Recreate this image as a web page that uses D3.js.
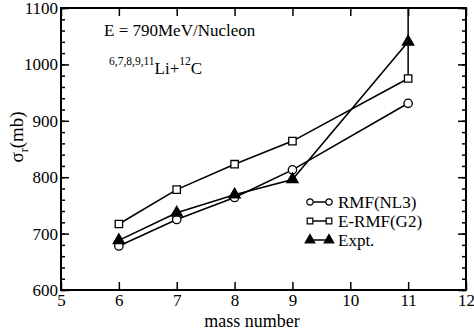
<!DOCTYPE html>
<html><head><meta charset="utf-8">
<script src="https://cdn.jsdelivr.net/npm/d3@7"></script>
<style>body{margin:0;background:#fff}</style>
</head><body>
<svg id="c" width="474" height="333"></svg>
<script>
const massNumbers = [6, 7, 8, 9, 11];
const rmfNL3 = [678, 725, 764, 813, 931];
const ermfG2 = [717, 778, 823, 864, 975];
const expt = [688, 737, 769, 796, 1040];
const exptErr = [0, 0, 0, 0, 65];
const xTicks = [5, 6, 7, 8, 9, 10, 11, 12];
const yTicks = [600, 700, 800, 900, 1000, 1100];
const seriesNames = ["RMF(NL3)", "E-RMF(G2)", "Expt."];

const svg = d3.select("#c");
const L = 61, R = 466, T = 8, B = 290;
const x = d3.scaleLinear().domain([5, 12]).range([L, R]);
const y = d3.scaleLinear().domain([600, 1100]).range([B, T]);
const font = "'Liberation Serif', 'Times New Roman', serif";

svg.append("clipPath").attr("id", "pc").append("rect")
  .attr("x", L).attr("y", T).attr("width", R - L).attr("height", B - T);

const minorY = d3.range(600, 1101, 20);
const g = svg.append("g");
g.append("g").attr("transform", `translate(${L},0)`)
  .call(d3.axisLeft(y).tickValues(minorY).tickSize(-4).tickFormat(""))
  .call(a => a.select(".domain").remove());
g.append("g").attr("transform", `translate(${L},0)`)
  .call(d3.axisLeft(y).tickValues(yTicks).tickSize(-8).tickPadding(3).tickFormat(d3.format("d")))
  .call(a => a.select(".domain").remove());
g.append("g").attr("transform", `translate(${R},0)`)
  .call(d3.axisRight(y).tickValues(minorY).tickSize(-4).tickFormat(""))
  .call(a => a.select(".domain").remove());
g.append("g").attr("transform", `translate(${R},0)`)
  .call(d3.axisRight(y).tickValues(yTicks).tickSize(-8).tickFormat(""))
  .call(a => a.select(".domain").remove());
g.append("g").attr("transform", `translate(0,${B})`)
  .call(d3.axisBottom(x).tickValues(xTicks).tickSize(-8).tickPadding(4).tickFormat(d3.format("d")))
  .call(a => a.select(".domain").remove());
g.append("g").attr("transform", `translate(0,${T})`)
  .call(d3.axisTop(x).tickValues(xTicks).tickSize(-8).tickFormat(""))
  .call(a => a.select(".domain").remove());

g.selectAll(".tick line").attr("stroke", "#000").attr("stroke-width", 1.5);
g.selectAll(".tick text").attr("font-family", font).attr("font-size", 17).attr("fill", "#000");

svg.append("rect").attr("x", L).attr("y", T).attr("width", R - L).attr("height", B - T)
  .attr("fill", "none").attr("stroke", "#000").attr("stroke-width", 2);

svg.append("text").attr("x", 252).attr("y", 327).attr("text-anchor", "middle")
  .attr("font-family", font).attr("font-size", 18).text("mass number");
const yl = svg.append("text").attr("transform", "translate(23,137) rotate(-90)")
  .attr("text-anchor", "middle").attr("font-family", font).attr("font-size", 19);
yl.append("tspan").text("σ");
yl.append("tspan").attr("font-size", 12).attr("dy", 5).text("r");
yl.append("tspan").attr("dy", -5).text("(mb)");

svg.append("text").attr("x", 104).attr("y", 36).attr("font-family", font).attr("font-size", 17)
  .text("E = 790MeV/Nucleon");
const an = svg.append("text").attr("x", 109).attr("y", 74).attr("font-family", font).attr("font-size", 17);
an.append("tspan").attr("font-size", 11.5).attr("dy", -9).text("6,7,8,9,11");
an.append("tspan").attr("dy", 9).text("Li+");
an.append("tspan").attr("font-size", 11.5).attr("dy", -9).text("12");
an.append("tspan").attr("dy", 9).text("C");

const plot = svg.append("g").attr("clip-path", "url(#pc)");
const line = d3.line().x(d => x(d[0])).y(d => y(d[1]));
const series = [rmfNL3, ermfG2, expt].map(v => massNumbers.map((m, i) => [m, v[i]]));

plot.selectAll(".err").data(massNumbers.map((m, i) => [m, expt[i], exptErr[i]]).filter(d => d[2] > 0))
  .enter().append("line")
  .attr("x1", d => x(d[0])).attr("x2", d => x(d[0]))
  .attr("y1", d => y(d[1] - d[2])).attr("y2", d => y(d[1] + d[2]))
  .attr("stroke", "#000").attr("stroke-width", 1.5);

series.forEach(s => {
  plot.append("path").attr("d", line(s)).attr("fill", "none")
    .attr("stroke", "#000").attr("stroke-width", 1.6);
});

const types = [d3.symbolCircle, d3.symbolSquare, d3.symbolTriangle];
const sizes = [55, 55, 55];
series.forEach((s, k) => {
  plot.selectAll(null).data(s).enter().append("path")
    .attr("transform", d => `translate(${x(d[0])},${y(d[1])})`)
    .attr("d", d3.symbol().type(types[k]).size(sizes[k])())
    .attr("fill", k === 2 ? "#000" : "#fff")
    .attr("stroke", "#000").attr("stroke-width", 1.3);
});

const lg = svg.append("g");
seriesNames.forEach((n, k) => {
  const yy = 202 + k * 19;
  lg.append("line").attr("x1", 310).attr("x2", 329).attr("y1", yy).attr("y2", yy)
    .attr("stroke", "#000").attr("stroke-width", 1.5);
  [310, 329].forEach(xx => {
    lg.append("path").attr("transform", `translate(${xx},${yy})`)
      .attr("d", d3.symbol().type(types[k]).size(k === 2 ? 40 : 32)())
      .attr("fill", k === 2 ? "#000" : "#fff").attr("stroke", "#000").attr("stroke-width", 1.2);
  });
  lg.append("text").attr("x", 338).attr("y", yy + 6).attr("font-family", font).attr("font-size", 17).text(n);
});
</script>
</body></html>
